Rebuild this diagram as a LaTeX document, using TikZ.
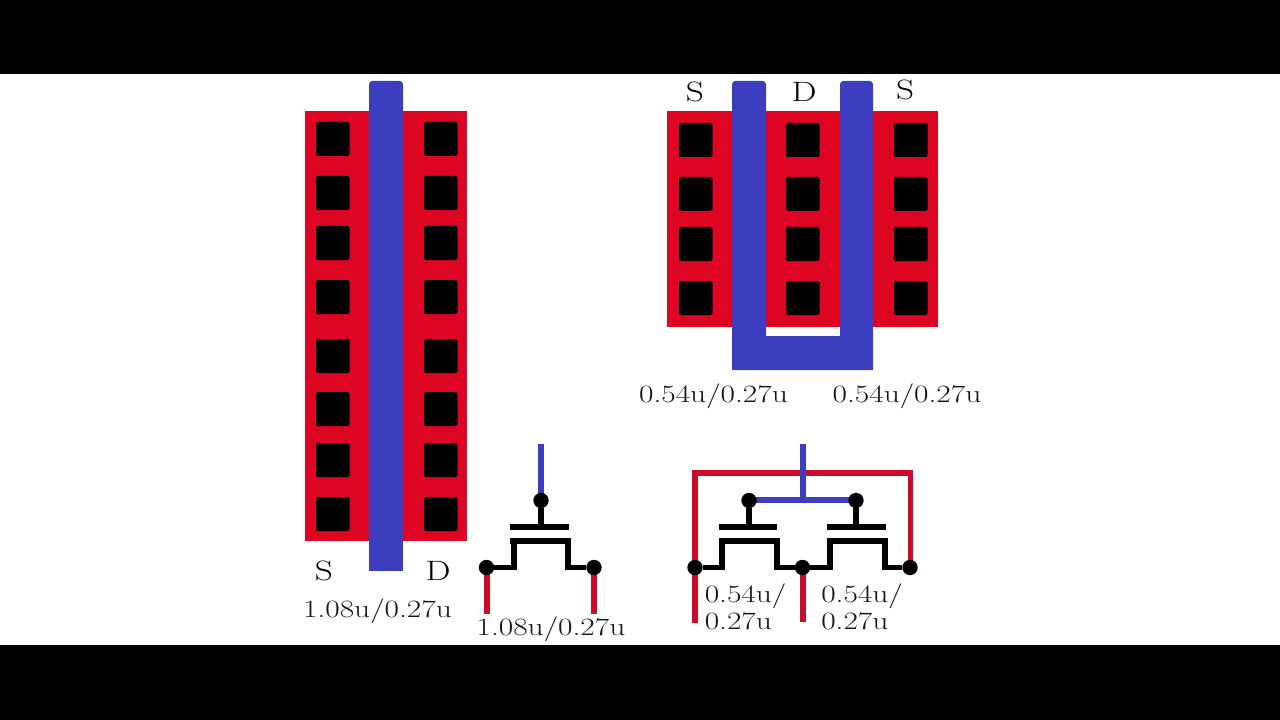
\documentclass[tikz,border=0pt]{standalone}
\usepackage{graphicx}
\definecolor{dred}{HTML}{DD0521}
\definecolor{wred}{HTML}{CC0A2A}
\definecolor{poly}{HTML}{3D3DC0}
\newcommand{\wtxt}[1]{\scalebox{1.26}[1]{#1}}
\tikzset{
  x=0.75pt,y=-0.75pt,
  diff/.style={fill=dred,draw=none},
  polyfill/.style={fill=poly,draw=none},
  contact/.style={fill=black,draw=none,rounded corners=1.5pt},
  dotn/.style={circle,fill=black,inner sep=0pt,minimum size=11.5pt},
  lab/.style={inner sep=0pt,font=\fontsize{18.7}{22}\selectfont,text=black!92},
  termlab/.style={inner sep=0pt,font=\fontsize{21}{24}\selectfont,text=black},
  wireb/.style={line width=4.3pt,black,line join=miter},
  wirered/.style={line width=4.2pt,wred},
  wirepoly/.style={line width=4.5pt,poly}
}
\newcommand{\cont}[2]{\fill[contact] (#1,#2) rectangle ++(33.5,34);}
\begin{document}
\begin{tikzpicture}
\useasboundingbox (0,0) rectangle (1280,720);
\fill[white] (0,0) rectangle (1280,720);
\fill[black] (0,0) rectangle (1280,74.5);
\fill[black] (0,645) rectangle (1280,720);
% left layout
\fill[diff] (305,111) rectangle (467,541);
\fill[polyfill,rounded corners=2.5pt] (369,300) -- (369,81) -- (403,81) -- (403,300) -- cycle;
\fill[polyfill] (369,200) rectangle (403,571);
\foreach \y in {122,176,226,280,339,392,443,497}{
  \cont{316}{\y}\cont{424}{\y}
}
\node[termlab] (ls) at (324,571) {\wtxt{S}};
\node[termlab] (ld) at (438,571) {\wtxt{D}};
\node[lab] (ldim) at (377.5,611) {\wtxt{1.08u/0.27u}};
% right layout
\fill[diff] (667,111) rectangle (938,327);
\fill[polyfill,rounded corners=2.5pt] (732,200) -- (732,81) -- (766,81) -- (766,200) -- cycle;
\fill[polyfill,rounded corners=2.5pt] (840,200) -- (840,81) -- (873,81) -- (873,200) -- cycle;
\fill[polyfill] (732,150) -- (766,150) -- (766,336) -- (840,336) -- (840,150) -- (873,150) -- (873,370) -- (732,370) -- cycle;
\foreach \y in {123,177,227,281}{
  \cont{679}{\y}\cont{786}{\y}\cont{894}{\y}
}
\node[termlab] (rs1) at (695,92) {\wtxt{S}};
\node[termlab] (rd) at (804,92) {\wtxt{D}};
\node[termlab] (rs2) at (905,90) {\wtxt{S}};
\node[lab] (rdim1) at (713.5,396) {\wtxt{0.54u/0.27u}};
\node[lab] (rdim2) at (907,396) {\wtxt{0.54u/0.27u}};
% single transistor
\coordinate (gt) at (541,444);
\coordinate (bl) at (487,614);
\coordinate (br) at (594,614);
\draw[wirepoly] (gt) -- (541,500);
\draw[wirered] (bl) -- (487,567);
\draw[wirered] (br) -- (594,567);
\node[dotn] (g) at (541,500.5) {};
\node[dotn] (sl) at (486.5,567.5) {};
\node[dotn] (sr) at (594,567.5) {};
\draw[wireb] (g) -- (541,527);
\draw[wireb] (510,527) -- (569,527);
\draw[wireb] (sl) -- (514,567.5) -- (514,541) -- (510,541) -- (568,541) -- (568,567.5) -- (sr);
\node[lab] (cdim) at (551,629) {\wtxt{1.08u/0.27u}};
% double transistor
\coordinate (gtop) at (803,444);
\coordinate (jn) at (803,500);
\coordinate (dl) at (695,623);
\coordinate (dm) at (803,622);
\draw[wirered] (dl) -- (695,473) -- (910.5,473) -- (910.5,567);
\draw[wirered] (dm) -- (803,567);
\draw[wirepoly] (gtop) -- (jn);
\draw[wirepoly] (749,500) -- (856,500);
\node[dotn] (g1) at (749,500.5) {};
\node[dotn] (g2) at (856,500.5) {};
\node[dotn] (n1) at (695,567.5) {};
\node[dotn] (n2) at (802.5,567.5) {};
\node[dotn] (n3) at (910,567.5) {};
\draw[wireb] (g1) -- (749,527);
\draw[wireb] (g2) -- (856,527);
\draw[wireb] (718.5,527) -- (777,527);
\draw[wireb] (827,527) -- (886,527);
\draw[wireb] (n1) -- (722,567.5) -- (722,541) -- (719,541) -- (777,541) -- (777,567.5) -- (n2);
\draw[wireb] (n2) -- (830,567.5) -- (830,541) -- (827,541) -- (885,541) -- (885,567.5) -- (n3);
\node[lab,anchor=west] (d1a) at (704.5,596) {\wtxt{0.54u/}};
\node[lab,anchor=west] (d1b) at (704.5,621.5) {\wtxt{0.27u}};
\node[lab,anchor=west] (d2a) at (821,596) {\wtxt{0.54u/}};
\node[lab,anchor=west] (d2b) at (821,621.5) {\wtxt{0.27u}};
\end{tikzpicture}
\end{document}
